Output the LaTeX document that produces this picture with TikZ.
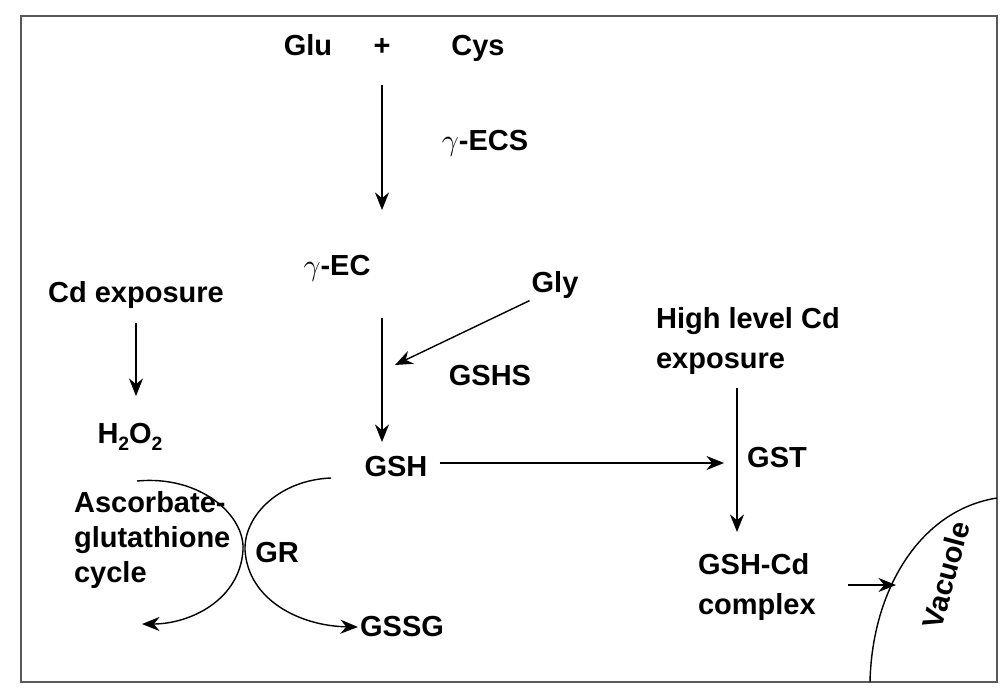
\documentclass[tikz,border=0pt]{standalone}
\usepackage{fontspec}
\setmainfont{Liberation Sans}
\usetikzlibrary{arrows.meta}
\begin{document}
\begin{tikzpicture}[x=0.02cm,y=-0.02cm,
  t/.style={font=\fontsize{16.5}{19}\selectfont\bfseries,inner sep=1pt},
  ar/.style={-{Stealth[length=10pt,width=8pt]},line width=0.8pt},
  ln/.style={line width=0.8pt}]
\useasboundingbox (0,0) rectangle (1008,700);
\draw[line width=1pt,gray!70!black] (21,16) rectangle (997,682);
\node[t,anchor=base] (glu) at (308,55) {Glu};
\node[t,anchor=base] (plus) at (382,55) {+};
\node[t,anchor=base] (cys) at (478,55) {Cys};
\coordinate (a1) at (382,85);
\coordinate (a2) at (382,210);
\draw[ar] (a1) -- (a2);
\node[t] (gecs) at (485,143) {$\gamma$-ECS};
\node[t] (gec) at (337,268) {$\gamma$-EC};
\node[t] (gly) at (555,285) {Gly};
\coordinate (b1) at (382,318);
\draw[ar] (b1) -- (382,442) coordinate (b2);
\draw[ar] (gly.south west) -- (395,365);
\node[t] (gshs) at (490,376) {GSHS};
\node[t] (gsh) at (396,467) {GSH};
\coordinate (c2) at (724,463);
\draw[ar] (gsh.east)++(10,-4) coordinate (c1) -- (c2);
\node[t] (cde) at (136,295) {Cd exposure};
\node[t] (h2o2) at (130,437) {H\raisebox{-4pt}{\fontsize{11}{12}\selectfont 2}O\raisebox{-4pt}{\fontsize{11}{12}\selectfont 2}};
\draw[ar] (cde.south)++(0,12) -- (136,396);
\node[t,align=left,anchor=west] (hl) at (654,341) {High level Cd\\[4pt]exposure};
\coordinate (d1) at (737,388);
\coordinate (d2) at (737,532);
\draw[ar] (d1) -- (d2);
\node[t] (gst) at (777,458) {GST};
\node[t,align=left,anchor=west] (cplx) at (696,587) {GSH-Cd\\[4pt]complex};
\coordinate (e1) at (848,585);
\coordinate (e2) at (896,585);
\draw[ar] (e1) -- (e2);
\draw[ln] (870,682) .. controls (872,590) and (920,510) .. (997,498);
\node[t,rotate=75] (vac) at (946,575) {Vacuole};
\node[t,align=left,anchor=west] (asc) at (72,540) {Ascorbate-\\[1pt]glutathione\\[1pt]cycle};
\node[t] (gr) at (277,553) {GR};
\node[t,anchor=west] (gssg) at (358,627) {GSSG};
\coordinate (l1) at (137,481);
\coordinate (l2) at (142,624);
\draw[ar] (l1) .. controls (200,475) and (245,515) .. (243,550) .. controls (240,600) and (190,624) .. (l2);
\coordinate (r1) at (331,478);
\draw[ar] (r1) .. controls (280,480) and (244,515) .. (245,550) .. controls (248,600) and (300,626) .. (gssg.west);
\end{tikzpicture}
\end{document}
